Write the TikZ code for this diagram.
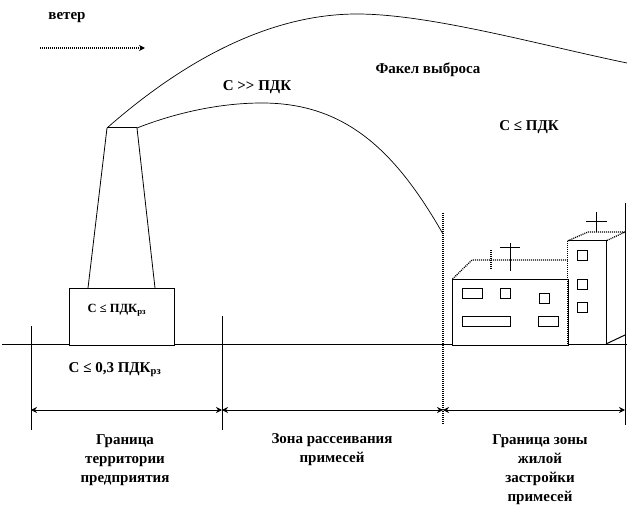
\documentclass[tikz,border=0pt]{standalone}
\usepackage{fontspec}
\setmainfont{Liberation Serif}
\usepackage{tikz}
\usetikzlibrary{arrows.meta}

\begin{document}
\begin{tikzpicture}[
                x=1pt,y=-1pt,
                lbl/.style={font=\bfseries\fontsize{15}{17}\selectfont,inner sep=0pt,align=center,text=black},
                zonelbl/.style={font=\bfseries\fontsize{15}{19}\selectfont,inner sep=0pt,align=center,text=black},
                ln/.style={line width=1pt,black},
                dotln/.style={line width=1.3pt,black,dash pattern=on 1pt off 1pt},
                dimarrow/.style={line width=1pt,black,{Stealth[length=6pt,width=6pt]}-{Stealth[length=6pt,width=6pt]}},
                win/.style={draw=black,line width=1pt,fill=white,inner sep=0pt}
            ]
                \useasboundingbox (0,0) rectangle (627,532);

                % ground and zone boundaries
                \coordinate (groundL) at (2,344);
                \coordinate (groundR) at (627,344);
                \coordinate (b1top) at (31,326);
                \coordinate (b1bot) at (31,430);
                \coordinate (b2top) at (222,316);
                \coordinate (b2bot) at (222,430);
                \coordinate (b3top) at (443,213);
                \coordinate (b3bot) at (443,425);
                \coordinate (b4top) at (625,203);
                \coordinate (b4bot) at (625,425);
                \draw[ln] (groundL) -- (groundR);
                \draw[ln] (b1top) -- (b1bot);
                \draw[ln] (b2top) -- (b2bot);
                \draw[dotln] (b3top) -- (b3bot);
                \draw[ln] (b4top) -- (b4bot);

                \coordinate (d1) at (31,410);
                \coordinate (d2) at (222,410);
                \coordinate (d3) at (443,410);
                \coordinate (d4) at (625,410);
                \draw[dimarrow] (d1) -- (d2);
                \draw[dimarrow] (d2) -- (d3);
                \draw[dimarrow] (d3) -- (d4);

                % wind
                \coordinate (windA) at (40,48);
                \coordinate (windB) at (145,48);
                \draw[dotln,-{Stealth[length=6pt,width=6pt]}] (windA) -- (windB);

                % chimney
                \node[draw=black,fill=white,line width=1pt,minimum width=105pt,minimum height=57pt,inner sep=0pt] (base) at (121.5,316.5) {};
                \coordinate (chimL) at (107,128);
                \coordinate (chimR) at (137,128);
                \draw[ln] (chimL) -- (chimR);
                \draw[line width=0.8pt,black] (chimL) -- (88,288);
                \draw[line width=0.8pt,black] (chimR) -- (155,288);

                % plumes
                \coordinate (plumeEnd) at (443,234);
                \draw[line width=0.7pt,black] (chimL) .. controls (190,55) and (275,14) .. (357,14)
                    .. controls (430,14) and (540,45) .. (627,63);
                \draw[line width=0.7pt,black] (chimR) .. controls (170,115) and (215,103) .. (262,103)
                    .. controls (345,103) and (395,150) .. (plumeEnd);

                % low block
                \draw[dotln] (452.5,279) -- (472,260) -- (568,260);
                \node[draw=black,line width=1pt,fill=white,minimum width=115.5pt,minimum height=66pt,inner sep=0pt] (block) at (510.25,312) {};
                \node[win,minimum width=20pt,minimum height=10pt] (w1) at (472,293) {};
                \node[win,minimum width=10pt,minimum height=10pt] (w2) at (505.5,293) {};
                \node[win,minimum width=10pt,minimum height=10pt] (w3) at (544,298) {};
                \node[win,minimum width=48pt,minimum height=10pt] (w4) at (486,321) {};
                \node[win,minimum width=20pt,minimum height=10pt] (w5) at (548.5,321) {};

                % tower
                \node[minimum width=38pt,minimum height=104pt,inner sep=0pt] (tower) at (587,293) {};
                \draw[ln] (tower.north west) -- (tower.north east) -- (tower.south east);
                \draw[dotln] (tower.north west) -- (tower.south west);
                \draw[dotln] (tower.north west) -- (588,232) -- (625,232) -- (tower.north east);
                \draw[ln] (606,344) -- (625,335);
                \node[win,minimum width=10pt,minimum height=10pt] (w6) at (582,255) {};
                \node[win,minimum width=10pt,minimum height=10pt] (w7) at (582,284) {};
                \node[win,minimum width=10pt,minimum height=10pt] (w8) at (582,307) {};

                % antennas
                \draw[ln] (510,243) -- (510,271);
                \draw[ln] (500,247) -- (520,247);
                \draw[dotln] (491,250) -- (491,270);
                \draw[ln] (596,212) -- (596,232);
                \draw[ln] (586,222) -- (607,222);

                % labels
                \node[lbl] (wind) at (67,18) {ветер};
                \node[lbl] (hi) at (257,87) {С >{}> ПДК};
                \node[lbl] (plume) at (428,69.5) {Факел выброса};
                \node[lbl] (low) at (529,127) {С ≤ ПДК};
                \node[lbl,font=\bfseries\fontsize{12.5}{14}\selectfont] (inside) at (117,310) {С ≤ ПДК\textsubscript{рз}};
                \node[lbl] (site) at (115,370) {С ≤ 0,3 ПДК\textsubscript{рз}};
                \node[zonelbl] (z1) at (125,460) {Граница\\территории\\предприятия};
                \node[zonelbl] (z2) at (332,450) {Зона рассеивания\\примесей};
                \node[zonelbl] (z3) at (540,470) {Граница зоны\\жилой\\застройки\\примесей};
            \end{tikzpicture}
\end{document}
